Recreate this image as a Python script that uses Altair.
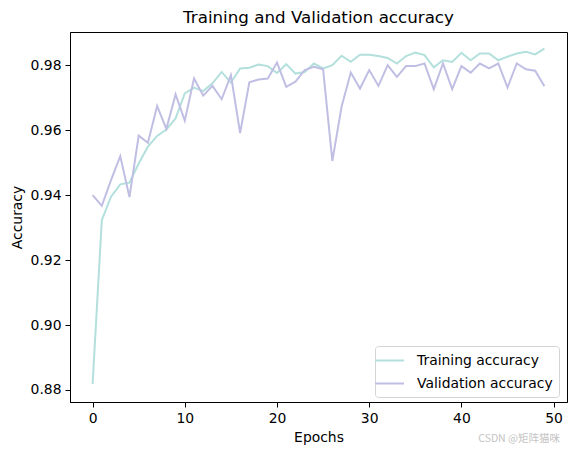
import altair as alt
import pandas as pd

epochs = list(range(50))
train_acc = [0.8818, 0.9323, 0.9395, 0.9433, 0.9438, 0.9497, 0.9549, 0.9582, 0.9602, 0.9636,
             0.9713, 0.9731, 0.9720, 0.9744, 0.9779, 0.9746, 0.9790, 0.9792, 0.9802, 0.9797,
             0.9776, 0.9803, 0.9774, 0.9779, 0.9805, 0.9790, 0.9800, 0.9829, 0.9810, 0.9832,
             0.9832, 0.9828, 0.9822, 0.9805, 0.9828, 0.9839, 0.9831, 0.9793, 0.9815, 0.9810,
             0.9838, 0.9815, 0.9836, 0.9836, 0.9815, 0.9826, 0.9836, 0.9841, 0.9833, 0.9851]
val_acc = [0.9400, 0.9367, 0.9446, 0.9520, 0.9394, 0.9583, 0.9561, 0.9674, 0.9604, 0.9710,
           0.9629, 0.9759, 0.9706, 0.9736, 0.9695, 0.9769, 0.9591, 0.9747, 0.9756, 0.9759,
           0.9808, 0.9733, 0.9749, 0.9785, 0.9795, 0.9787, 0.9505, 0.9672, 0.9777, 0.9728,
           0.9785, 0.9736, 0.9800, 0.9764, 0.9797, 0.9797, 0.9805, 0.9726, 0.9805, 0.9726,
           0.9797, 0.9777, 0.9805, 0.9790, 0.9805, 0.9731, 0.9805, 0.9787, 0.9783, 0.9735]
series_names = ["Training accuracy", "Validation accuracy"]
series_colors = ["#b3e0dc", "#c0bfe3"]
x_ticks = [0, 10, 20, 30, 40, 50]
y_ticks = [0.88, 0.90, 0.92, 0.94, 0.96, 0.98]

df = pd.DataFrame({
    "Epoch": epochs * 2,
    "Accuracy": train_acc + val_acc,
    "Series": [series_names[0]] * 50 + [series_names[1]] * 50,
})

FONT = "DejaVu Sans"

lines = alt.Chart(df).mark_line(strokeWidth=2).encode(
    x=alt.X("Epoch:Q",
            scale=alt.Scale(domain=[-2.45, 51.45], nice=False, zero=False),
            axis=alt.Axis(values=x_ticks, title="Epochs", format="d")),
    y=alt.Y("Accuracy:Q",
            scale=alt.Scale(domain=[0.8763, 0.9902], nice=False, zero=False),
            axis=alt.Axis(values=y_ticks, title="Accuracy", format=".2f")),
    color=alt.Color("Series:N",
                    scale=alt.Scale(domain=series_names, range=series_colors),
                    legend=alt.Legend(title=None, orient="none", legendX=305, legendY=314)),
    detail="Series:N",
)

watermark = alt.Chart(pd.DataFrame({"t": ["CSDN @矩阵猫咪"]})).mark_text(
    align="right", baseline="middle", fontSize=10.5, color="#c4c4c4", font="Noto Sans CJK SC"
).encode(x=alt.value(490), y=alt.value(407), text="t:N")

chart = alt.layer(lines, watermark).properties(
    width=497, height=370,
    title=alt.TitleParams("Training and Validation accuracy", fontSize=16.7, fontWeight="normal",
                          font=FONT, color="black", anchor="middle", offset=5),
    autosize=alt.AutoSizeParams(type="none"),
    padding={"left": 62, "top": 24, "right": 1, "bottom": 45},
).configure_view(
    stroke="black", strokeWidth=1
).configure_axis(
    grid=False, domainColor="black", tickColor="black", labelColor="black",
    titleColor="black", labelFont=FONT, titleFont=FONT, labelFontSize=13.9,
    titleFontSize=13.9, titleFontWeight="normal", tickSize=5, labelPadding=4,
).configure_axisX(
    titlePadding=6
).configure_axisY(
    titlePadding=6
).configure_legend(
    strokeColor="#d5d5d5", fillColor="white", cornerRadius=3, padding=6,
    symbolType="M-2,0L2,0", symbolStrokeWidth=2, symbolSize=210,
    labelFont=FONT, labelFontSize=13.9, labelColor="black", labelOffset=19,
    rowPadding=7,
)

chart.save("out.html", embed_options={"renderer": "svg", "actions": False})
